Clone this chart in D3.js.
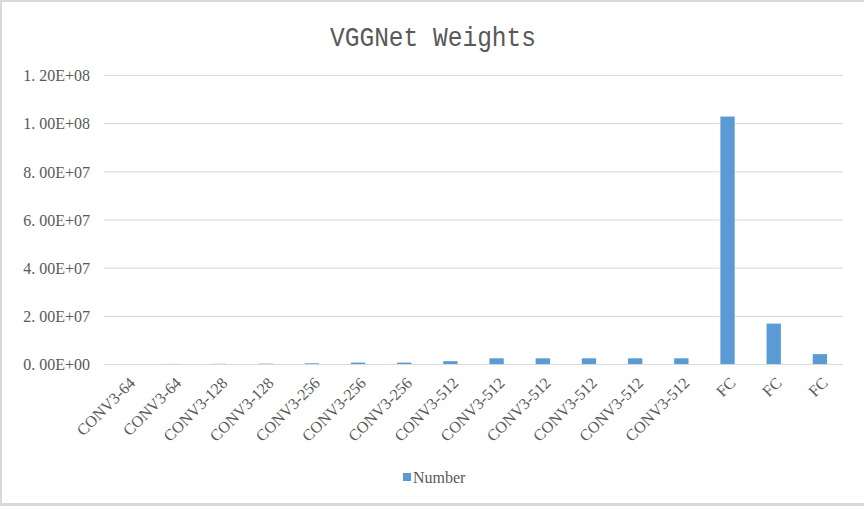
<!DOCTYPE html>
<html>
<head>
<meta charset="utf-8">
<script src="https://cdn.jsdelivr.net/npm/d3@7"></script>
<style>
	body { margin: 0; background: #fff; }
	svg { display: block; }
	text { fill: #595959; }
</style>
</head>
<body>
<svg id="svg" width="864" height="510"></svg>
<script>
// layer names along the x axis
var layers = [
	"CONV3-64", "CONV3-64", "CONV3-128", "CONV3-128",
	"CONV3-256", "CONV3-256", "CONV3-256",
	"CONV3-512", "CONV3-512", "CONV3-512",
	"CONV3-512", "CONV3-512", "CONV3-512",
	"FC", "FC", "FC"
];

// weight counts per layer
var weights = [
	1728, 36864, 73728, 147456,
	294912, 589824, 589824,
	1179648, 2359296, 2359296,
	2359296, 2359296, 2359296,
	102760448, 16777216, 4096000
];

var yTicks = [0, 2e7, 4e7, 6e7, 8e7, 1e8, 1.2e8];
var yTickLabels = ["0. 00E+00", "2. 00E+07", "4. 00E+07", "6. 00E+07", "8. 00E+07", "1. 00E+08", "1. 20E+08"];

var svg = d3.select('#svg'),
	plotLeft = 104,
	plotRight = 843,
	plotTop = 75,
	plotBottom = 364,
	blue = '#5B9BD5',
	grid = '#d9d9d9';

// chart frame
svg.append('rect').attr('x', 0).attr('y', 0).attr('width', 864).attr('height', 2).attr('fill', grid);
svg.append('rect').attr('x', 0).attr('y', 0).attr('width', 2).attr('height', 505).attr('fill', grid);
svg.append('rect').attr('x', 0).attr('y', 503).attr('width', 864).attr('height', 3).attr('fill', grid);

var x = d3.scaleBand()
	.domain(d3.range(layers.length))
	.range([plotLeft, plotRight])
	.paddingInner(0.69)
	.paddingOuter(0.345);

var y = d3.scaleLinear()
	.domain([0, 1.2e8])
	.range([plotBottom, plotTop]);

// gridlines + y labels
var yAxis = svg.append('g')
	.attr('transform', 'translate(' + plotLeft + ',0)')
	.call(d3.axisLeft(y)
		.tickValues(yTicks)
		.tickSize(-(plotRight - plotLeft))
		.tickPadding(14)
		.tickFormat(function(d, i){ return yTickLabels[i]; }));

yAxis.select('.domain').remove();
yAxis.selectAll('line').attr('stroke', grid).attr('stroke-width', 1);
yAxis.selectAll('text')
	.attr('font-family', 'Liberation Serif, serif')
	.attr('font-size', 16)
	.attr('fill', '#595959')
	.attr('dy', '0.36em');

// bars
svg.append('g')
	.selectAll('rect')
	.data(weights)
	.enter()
	.append('rect')
	.attr('x', function(d, i){ return x(i); })
	.attr('y', function(d){ return y(d); })
	.attr('width', x.bandwidth())
	.attr('height', function(d){ return plotBottom - y(d); })
	.attr('fill', blue);

// redraw baseline on top of bars
svg.append('line')
	.attr('x1', plotLeft).attr('x2', plotRight)
	.attr('y1', plotBottom + 0.5).attr('y2', plotBottom + 0.5)
	.attr('stroke', grid);

// x labels, rotated
var xAxis = svg.append('g')
	.attr('transform', 'translate(0,' + plotBottom + ')')
	.call(d3.axisBottom(x)
		.tickSize(0)
		.tickFormat(function(i){ return layers[i]; }));

xAxis.select('.domain').remove();
xAxis.selectAll('text')
	.attr('font-family', 'Liberation Serif, serif')
	.attr('font-size', 16)
	.attr('fill', '#595959')
	.attr('text-anchor', 'end')
	.attr('dy', '0.35em')
	.attr('y', 0)
	.attr('transform', 'translate(5,16) rotate(-45)');

// title
svg.append('text')
	.attr('x', 433)
	.attr('y', 46)
	.attr('text-anchor', 'middle')
	.attr('font-family', 'Liberation Mono, monospace')
	.attr('font-size', 27)
	.attr('textLength', 206)
	.attr('lengthAdjust', 'spacingAndGlyphs')
	.text('VGGNet Weights');

// legend
svg.append('rect')
	.attr('x', 403).attr('y', 473)
	.attr('width', 8).attr('height', 8)
	.attr('fill', blue);

svg.append('text')
	.attr('x', 413)
	.attr('y', 483)
	.attr('font-family', 'Liberation Serif, serif')
	.attr('font-size', 16)
	.text('Number');
</script>
</body>
</html>
